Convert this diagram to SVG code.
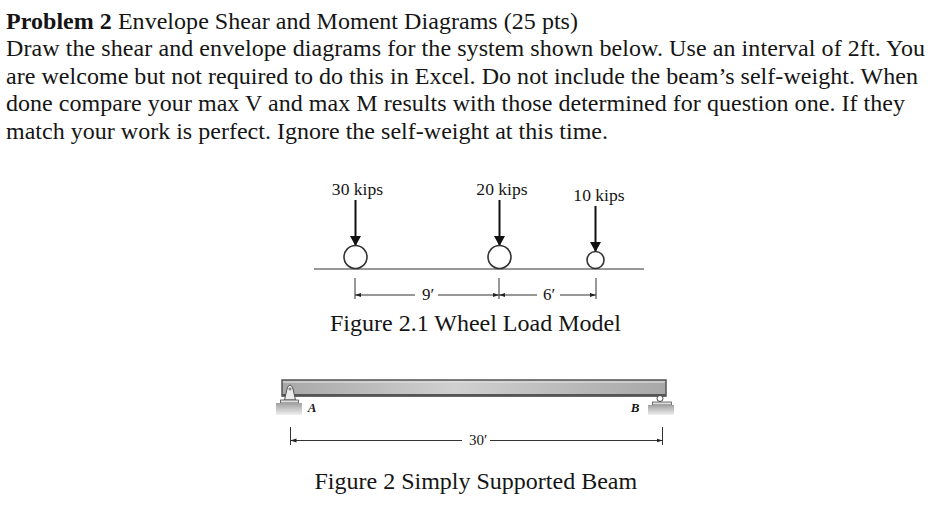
<svg xmlns="http://www.w3.org/2000/svg" width="935" height="509" viewBox="0 0 935 509">
<style>
text{font-family:"Liberation Serif","Times New Roman",serif;fill:#151515}
.p{font-size:24px}
.cap{font-size:24px}
.l{font-size:17.600px}
.d{font-size:17px}
.d2{font-size:15px}
.n{font-size:13px;font-style:italic;font-weight:bold;text-anchor:middle}
.ln{stroke:#333;fill:none;stroke-width:1}
.ar{stroke:#111;fill:none;stroke-width:2}
.w{fill:#fff;stroke:#333;stroke-width:1.6}
</style>
<defs>
<marker id="ah" markerUnits="userSpaceOnUse" markerWidth="10" markerHeight="13" refX="9" refY="6.500" orient="auto"><path d="M0,1 L10,6.500 L0,12 Z" fill="#111"/></marker>
<marker id="dh" markerUnits="userSpaceOnUse" markerWidth="6" markerHeight="5" refX="6" refY="2.500" orient="auto-start-reverse"><path d="M0,0.500 L6,2.500 L0,4.500 Z" fill="#222"/></marker>
<linearGradient id="bm" x1="0" x2="1" y1="0" y2="0"><stop offset="0" stop-color="#a8a8a8"/><stop offset="0.45" stop-color="#d0d0d0"/><stop offset="1" stop-color="#a8a8a8"/></linearGradient>
<linearGradient id="gr" x1="0" x2="0" y1="0" y2="1"><stop offset="0" stop-color="#a0a0a0"/><stop offset="1" stop-color="#f0f0f0"/></linearGradient>
</defs>
<rect width="935" height="509" fill="#fff"/>
<g id="problem-text">
<text class="p" x="6" y="29" textLength="572" lengthAdjust="spacing"><tspan font-weight="bold">Problem 2</tspan> Envelope Shear and Moment Diagrams (25 pts)</text>
<text class="p" x="6" y="56" textLength="919" lengthAdjust="spacing">Draw the shear and envelope diagrams for the system shown below. Use an interval of 2ft. You</text>
<text class="p" x="6" y="83.500" textLength="912" lengthAdjust="spacing">are welcome but not required to do this in Excel. Do not include the beam’s self-weight. When</text>
<text class="p" x="6" y="110.500" textLength="899" lengthAdjust="spacing">done compare your max V and max M results with those determined for question one. If they</text>
<text class="p" x="6" y="138.500" textLength="602" lengthAdjust="spacing">match your work is perfect. Ignore the self-weight at this time.</text>
</g>
<g id="wheel-model">
<line class="ln" x1="314" y1="269" x2="644" y2="269" stroke-width="1.300"/>
<g id="wheel-30"><text class="l" x="357.500" y="195" text-anchor="middle">30 kips</text><line class="ar" x1="355.500" y1="200" x2="355.500" y2="245" marker-end="url(#ah)"/><circle class="w" cx="355.500" cy="257" r="11.500"/></g>
<g id="wheel-20"><text class="l" x="502" y="195" text-anchor="middle">20 kips</text><line class="ar" x1="499.500" y1="200" x2="499.500" y2="245" marker-end="url(#ah)"/><circle class="w" cx="499.500" cy="257" r="11.500"/></g>
<g id="wheel-10"><text class="l" x="599" y="201" text-anchor="middle">10 kips</text><line class="ar" x1="595.500" y1="206" x2="595.500" y2="251" marker-end="url(#ah)"/><circle class="w" cx="595.500" cy="260" r="8.500"/></g>
</g>
<g id="wheel-dims">
<line class="ln" x1="355" y1="278" x2="355" y2="299"/><line class="ln" x1="499" y1="278" x2="499" y2="299"/><line class="ln" x1="596" y1="278" x2="596" y2="299"/>
<line class="ln" x1="355" y1="295" x2="415" y2="295" marker-start="url(#dh)"/><line class="ln" x1="438" y1="295" x2="499" y2="295" marker-end="url(#dh)"/>
<line class="ln" x1="499" y1="295" x2="537" y2="295" marker-start="url(#dh)"/><line class="ln" x1="560" y1="295" x2="596" y2="295" marker-end="url(#dh)"/>
<text class="d" x="422" y="300">9′</text><text class="d" x="543" y="300">6′</text>
</g>
<text class="cap" x="330" y="331">Figure 2.1 Wheel Load Model</text>
<g id="beam">
<rect x="282" y="380" width="384" height="16" fill="url(#bm)" stroke="#555" stroke-width="1.500"/>
<rect x="283" y="381" width="382" height="2" fill="#e0e0e0" opacity="0.6"/>
<rect x="282" y="394" width="384" height="2.500" fill="#555"/>
</g>
<g id="support-a">
<path d="M284.500,400 L287,389 Q288,385 290,385 Q292,385 293,389 L295.500,400 Z" fill="#ececec" stroke="#555"/>
<circle cx="290" cy="389" r="1.200" fill="#999" stroke="#666" stroke-width="0.500"/>
<rect x="280.500" y="400" width="18" height="3" fill="#ddd" stroke="#555" stroke-width="0.800"/>
<rect x="276" y="403" width="26" height="12" fill="url(#gr)"/>
<text class="n" x="312" y="412">A</text>
</g>
<g id="support-b">
<circle cx="660" cy="398.500" r="3" fill="#fff" stroke="#444"/>
<rect x="652.500" y="402" width="19" height="3" fill="#ddd" stroke="#555" stroke-width="0.800"/>
<rect x="648" y="405" width="26" height="10" fill="url(#gr)"/>
<text class="n" x="635" y="412">B</text>
</g>
<g id="beam-dim">
<line class="ln" x1="290.500" y1="427" x2="290.500" y2="445"/><line class="ln" x1="662.500" y1="427" x2="662.500" y2="445"/>
<line class="ln" x1="290.500" y1="440.500" x2="462" y2="440.500" marker-start="url(#dh)"/><line class="ln" x1="490" y1="440.500" x2="662.500" y2="440.500" marker-end="url(#dh)"/>
<text class="d2" x="469" y="445">30′</text>
</g>
<text class="cap" x="314.500" y="489">Figure 2 Simply Supported Beam</text>
</svg>
